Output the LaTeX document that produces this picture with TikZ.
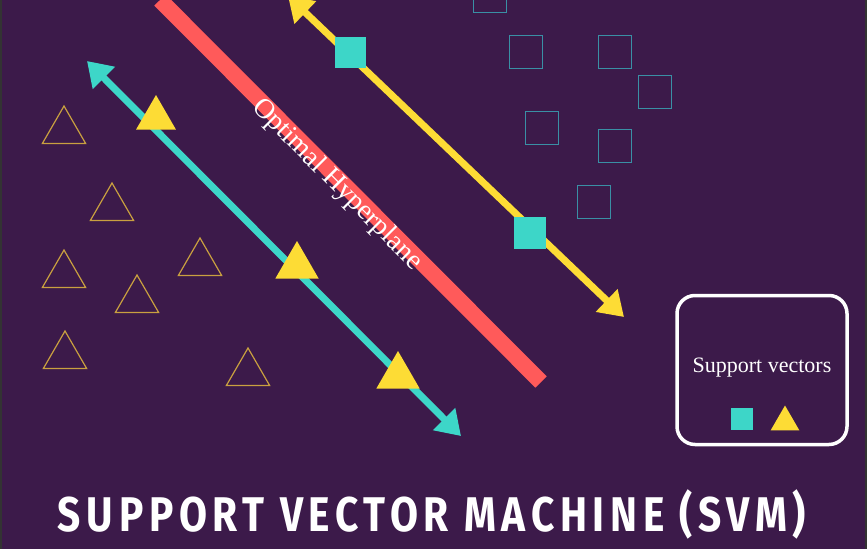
\documentclass[tikz,border=0pt]{standalone}
\usepackage{fontspec}
\setmainfont{Liberation Serif}
\newfontfamily\titlefont[LetterSpace=14]{Fira Sans}
\usetikzlibrary{arrows.meta,shapes.geometric}
\definecolor{bg}{HTML}{3C1A4A}
\definecolor{cyanc}{HTML}{3DD6C8}
\definecolor{yel}{HTML}{FDDC35}
\definecolor{redc}{HTML}{FF5A5A}
\definecolor{gold}{HTML}{C9A040}
\definecolor{teal}{HTML}{3A8FA5}
\tikzset{
 otri/.style={regular polygon,regular polygon sides=3,draw=gold,line width=1.2pt,minimum size=50pt,inner sep=0pt},
 ftri/.style={regular polygon,regular polygon sides=3,fill=yel,minimum size=50pt,inner sep=0pt},
 osq/.style={rectangle,draw=teal,line width=1.2pt,minimum size=33pt,inner sep=0pt},
 fsq/.style={rectangle,fill=cyanc,minimum size=32pt,inner sep=0pt},
 arr/.style={line width=7pt,{Triangle[length=24pt,width=30pt]}-{Triangle[length=24pt,width=30pt]}},
}
\begin{document}
\begin{tikzpicture}[x=1pt,y=-1pt]
\fill[bg] (0,0) rectangle (867,549);
\useasboundingbox (0,0) rectangle (867,549);
\fill[black!80] (0,0) rectangle (2,549);
\fill[black!80] (865,0) rectangle (867,549);
% outline shapes
\foreach \n/\x/\y in {t1/64/131,t2/112/208,t3/64/275,t4/200/263,t5/137/300,t6/65/356,t7/248/373}
  \node[otri] (\n) at (\x,\y) {};
\foreach \n/\x/\y in {s1/490/-4,s2/526/52,s3/615/52,s4/655/92,s5/542/128,s6/615/146,s7/594/202}
  \node[osq] (\n) at (\x,\y) {};
% red hyperplane
\coordinate (ra) at (160,0);
\coordinate (rb) at (541,382);
\draw[redc,line width=16pt] (ra) -- (rb);
\node[white,rotate=-45,font=\fontsize{28}{28}\selectfont] (lab) at (337,185) {Optimal Hyperplane};
% arrows
\coordinate (ya) at (288,-4);
\coordinate (yb) at (624,317);
\draw[yel,arr] (ya) -- (yb);
\coordinate (ca) at (87,61);
\coordinate (cb) at (461,436);
\draw[cyanc,arr] (ca) -- (cb);
% support vectors
\node[fsq,minimum size=31pt] (q1) at (350,52) {};
\node[fsq] (q2) at (530,233) {};
\node[ftri,minimum size=46pt] (y1) at (156,118) {};
\node[ftri] (y2) at (297,266) {};
\node[ftri] (y3) at (398,376) {};
% legend
\node[draw=white,line width=3.5pt,rounded corners=18pt,minimum width=170pt,minimum height=149pt] (leg) at (762,370) {};
\node[white,font=\fontsize{22}{22}\selectfont] (lt) at (762,368) {Support vectors};
\node[fsq,minimum size=22pt] (lq) at (742,419) {};
\node[ftri,minimum size=33pt] (ly) at (785,422) {};
% title
\node[white] (title) at (432,514) {\scalebox{1}[1.2]{\resizebox{748pt}{!}{\titlefont\bfseries SUPPORT VECTOR MACHINE (SVM)}}};
\end{tikzpicture}
\end{document}
